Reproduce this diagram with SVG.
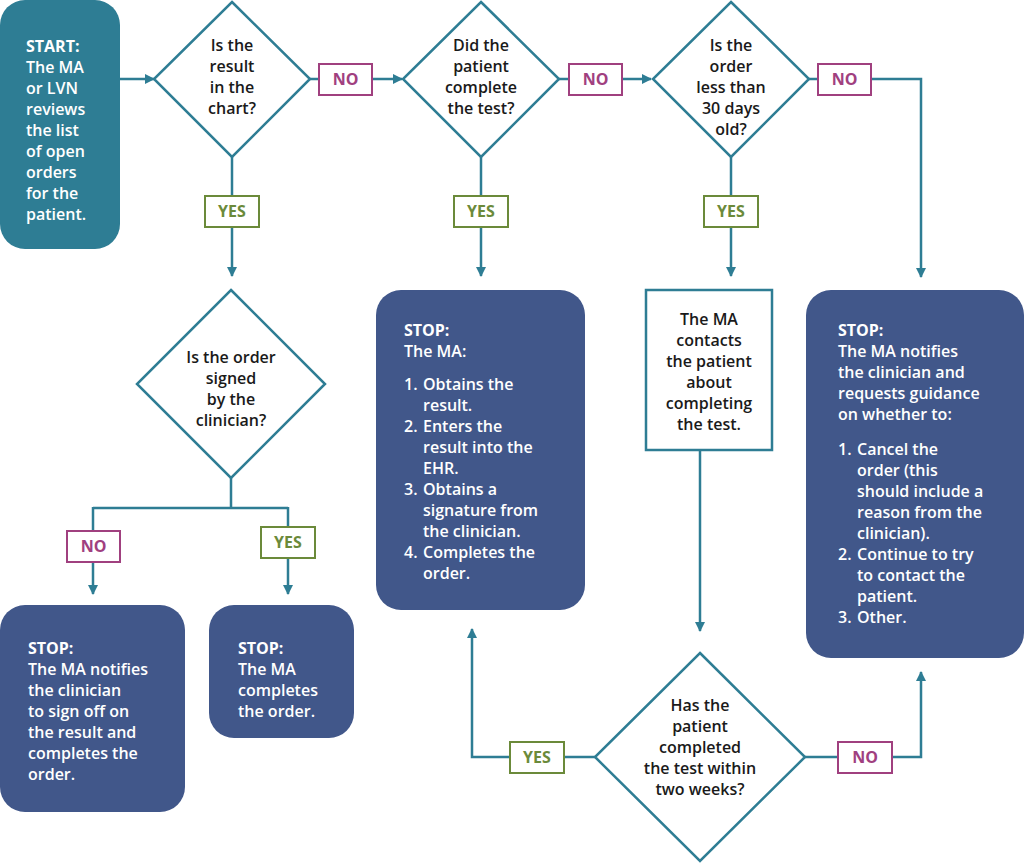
<svg xmlns="http://www.w3.org/2000/svg" width="1024" height="863" viewBox="0 0 1024 863">
<defs>
<marker id="ah" viewBox="0 0 10 10" refX="9" refY="5" markerWidth="10" markerHeight="10" markerUnits="userSpaceOnUse" orient="auto"><path d="M0,0 L10,5 L0,10 z" fill="#2e7d94"/></marker>
<style>
text{font-family:"Open Sans","Liberation Sans",sans-serif;font-weight:600;font-size:16px}
.w{fill:#fff}.k{fill:#1a1a1a}
.c{text-anchor:middle}
.dia{fill:#fff;stroke:#2e7d94;stroke-width:2.5}
.ln{fill:none;stroke:#2e7d94;stroke-width:2.5}
.no{fill:#fff;stroke:#a0407f;stroke-width:2}
.yes{fill:#fff;stroke:#6b8a3a;stroke-width:2}
.nt{fill:#a0407f;font-weight:700;text-anchor:middle}
.yt{fill:#6b8a3a;font-weight:700;text-anchor:middle}
.blue{fill:#41578a}
</style>
</defs>
<g id="connectors">
<path class="ln" d="M120,79 H154" marker-end="url(#ah)"/>
<path class="ln" d="M310,79 H402" marker-end="url(#ah)"/>
<path class="ln" d="M559,79 H651" marker-end="url(#ah)"/>
<path class="ln" d="M809,79 H921 V277" marker-end="url(#ah)"/>
<path class="ln" d="M232,157 V276" marker-end="url(#ah)"/>
<path class="ln" d="M481,157 V276" marker-end="url(#ah)"/>
<path class="ln" d="M731,157 V276" marker-end="url(#ah)"/>
<path class="ln" d="M231,478 V508 M93,508 H288"/>
<path class="ln" d="M93,507 V594" marker-end="url(#ah)"/>
<path class="ln" d="M288,507 V594" marker-end="url(#ah)"/>
<path class="ln" d="M700,450 V631" marker-end="url(#ah)"/>
<path class="ln" d="M595,757 H472 V629" marker-end="url(#ah)"/>
<path class="ln" d="M805,757 H921 V672" marker-end="url(#ah)"/>
<rect class="no" x="319" y="64" width="53" height="31"/><text class="nt" x="345.5" y="85">NO</text>
<rect class="no" x="569" y="64" width="53" height="31"/><text class="nt" x="595.5" y="85">NO</text>
<rect class="no" x="818" y="64" width="53" height="31"/><text class="nt" x="844.5" y="85">NO</text>
<rect class="yes" x="205" y="196" width="54" height="31"/><text class="yt" x="232" y="217">YES</text>
<rect class="yes" x="454" y="196" width="54" height="31"/><text class="yt" x="481" y="217">YES</text>
<rect class="yes" x="704" y="196" width="54" height="31"/><text class="yt" x="731" y="217">YES</text>
<rect class="no" x="67" y="531" width="53" height="31"/><text class="nt" x="93.5" y="552">NO</text>
<rect class="yes" x="261" y="527" width="54" height="31"/><text class="yt" x="288" y="548">YES</text>
<rect class="yes" x="510" y="742" width="54" height="31"/><text class="yt" x="537" y="763">YES</text>
<rect class="no" x="838" y="742" width="54" height="31"/><text class="nt" x="865" y="763">NO</text>
</g>
<g id="start">
<rect x="0" y="0" width="120" height="249" rx="25" fill="#2e7d94"/>
<text class="w" x="26" y="52"><tspan x="26" font-weight="700">START:</tspan><tspan x="26" dy="21">The MA</tspan><tspan x="26" dy="21">or LVN</tspan><tspan x="26" dy="21">reviews</tspan><tspan x="26" dy="21">the list</tspan><tspan x="26" dy="21">of open</tspan><tspan x="26" dy="21">orders</tspan><tspan x="26" dy="21">for the</tspan><tspan x="26" dy="21">patient.</tspan></text>
</g>
<g id="d1">
<path class="dia" d="M232,2 L310,79 L232,157 L154,79 z"/>
<text class="k c" x="232" y="51"><tspan x="232">Is the</tspan><tspan x="232" dy="21">result</tspan><tspan x="232" dy="21">in the</tspan><tspan x="232" dy="21">chart?</tspan></text>
</g>
<g id="d2">
<path class="dia" d="M481,2 L559,79 L481,157 L403,79 z"/>
<text class="k c" x="481" y="51"><tspan x="481">Did the</tspan><tspan x="481" dy="21">patient</tspan><tspan x="481" dy="21">complete</tspan><tspan x="481" dy="21">the test?</tspan></text>
</g>
<g id="d3">
<path class="dia" d="M731,2 L809,79 L731,157 L653,79 z"/>
<text class="k c" x="731" y="51"><tspan x="731">Is the</tspan><tspan x="731" dy="21">order</tspan><tspan x="731" dy="21">less than</tspan><tspan x="731" dy="21">30 days</tspan><tspan x="731" dy="21">old?</tspan></text>
</g>
<g id="d4">
<path class="dia" d="M231,290 L325,384 L231,478 L137,384 z"/>
<text class="k c" x="231" y="363"><tspan x="231">Is the order</tspan><tspan x="231" dy="21">signed</tspan><tspan x="231" dy="21">by the</tspan><tspan x="231" dy="21">clinician?</tspan></text>
</g>
<g id="stop1">
<rect class="blue" x="0" y="605" width="185" height="207" rx="25"/>
<text class="w" x="28" y="654"><tspan x="28" font-weight="700">STOP:</tspan><tspan x="28" dy="21">The MA notifies</tspan><tspan x="28" dy="21">the clinician</tspan><tspan x="28" dy="21">to sign off on</tspan><tspan x="28" dy="21">the result and</tspan><tspan x="28" dy="21">completes the</tspan><tspan x="28" dy="21">order.</tspan></text>
</g>
<g id="stop2">
<rect class="blue" x="209" y="605" width="145" height="133" rx="25"/>
<text class="w" x="238" y="654"><tspan x="238" font-weight="700">STOP:</tspan><tspan x="238" dy="21">The MA</tspan><tspan x="238" dy="21">completes</tspan><tspan x="238" dy="21">the order.</tspan></text>
</g>
<g id="stop3">
<rect class="blue" x="376" y="290" width="209" height="320" rx="25"/>
<text class="w" x="404" y="336"><tspan x="404" font-weight="700">STOP:</tspan><tspan x="404" dy="21">The MA:</tspan></text>
<text class="w"><tspan x="404" y="390">1.</tspan><tspan x="423" y="390">Obtains the</tspan><tspan x="423" dy="21">result.</tspan><tspan x="404" dy="21">2.</tspan><tspan x="423">Enters the</tspan><tspan x="423" dy="21">result into the</tspan><tspan x="423" dy="21">EHR.</tspan><tspan x="404" dy="21">3.</tspan><tspan x="423">Obtains a</tspan><tspan x="423" dy="21">signature from</tspan><tspan x="423" dy="21">the clinician.</tspan><tspan x="404" dy="21">4.</tspan><tspan x="423">Completes the</tspan><tspan x="423" dy="21">order.</tspan></text>
</g>
<g id="contact">
<rect x="646" y="290" width="126" height="160" fill="#fff" stroke="#2e7d94" stroke-width="2.5"/>
<text class="k c" x="709" y="325"><tspan x="709">The MA</tspan><tspan x="709" dy="21">contacts</tspan><tspan x="709" dy="21">the patient</tspan><tspan x="709" dy="21">about</tspan><tspan x="709" dy="21">completing</tspan><tspan x="709" dy="21">the test.</tspan></text>
</g>
<g id="stop4">
<rect class="blue" x="806" y="290" width="218" height="368" rx="25"/>
<text class="w" x="838" y="336"><tspan x="838" font-weight="700">STOP:</tspan><tspan x="838" dy="21">The MA notifies</tspan><tspan x="838" dy="21">the clinician and</tspan><tspan x="838" dy="21">requests guidance</tspan><tspan x="838" dy="21">on whether to:</tspan></text>
<text class="w"><tspan x="838" y="455">1.</tspan><tspan x="857" y="455">Cancel the</tspan><tspan x="857" dy="21">order (this</tspan><tspan x="857" dy="21">should include a</tspan><tspan x="857" dy="21">reason from the</tspan><tspan x="857" dy="21">clinician).</tspan><tspan x="838" dy="21">2.</tspan><tspan x="857">Continue to try</tspan><tspan x="857" dy="21">to contact the</tspan><tspan x="857" dy="21">patient.</tspan><tspan x="838" dy="21">3.</tspan><tspan x="857">Other.</tspan></text>
</g>
<g id="d5">
<path class="dia" d="M700,653 L805,757 L700,861 L595,757 z"/>
<text class="k c" x="700" y="711"><tspan x="700">Has the</tspan><tspan x="700" dy="21">patient</tspan><tspan x="700" dy="21">completed</tspan><tspan x="700" dy="21">the test within</tspan><tspan x="700" dy="21">two weeks?</tspan></text>
</g>
</svg>
